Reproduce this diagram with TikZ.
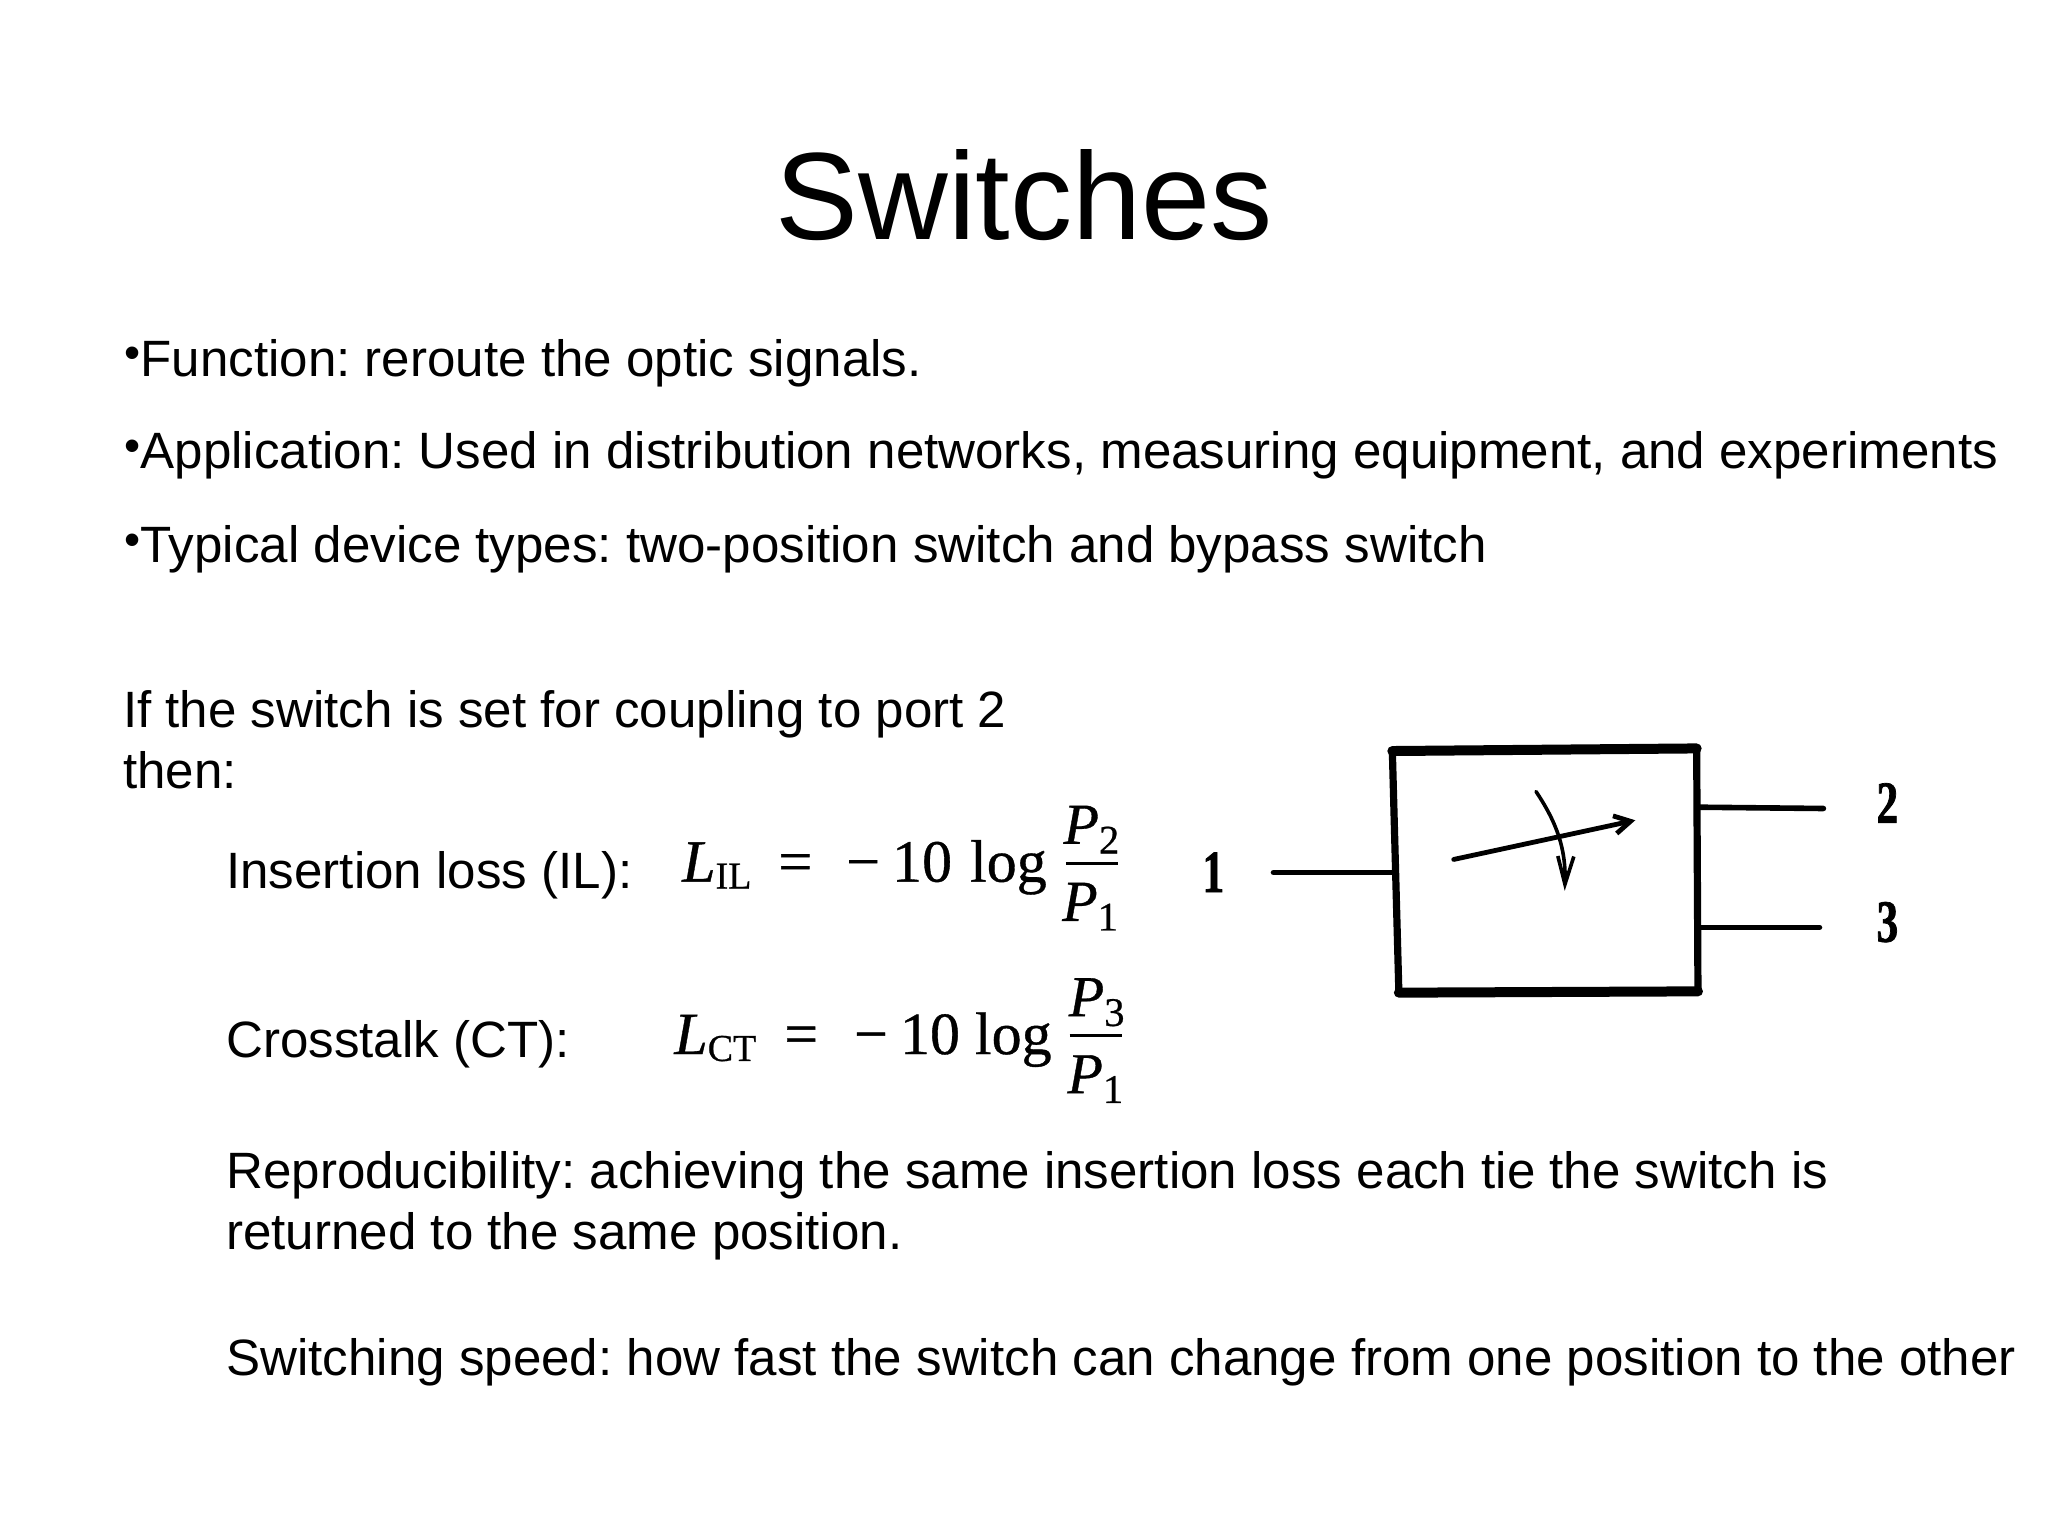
\documentclass[tikz,border=0pt]{standalone}
\usepackage{fontspec}
\usetikzlibrary{arrows.meta}
\setmainfont{Liberation Sans}
\newfontfamily\eqnfont[FakeBold=0.6]{Liberation Serif}
\newfontfamily\portfont[FakeStretch=0.72,FakeBold=1.2]{Liberation Serif}
\frenchspacing

\newcommand{\pw}[1]{\textit{P}\textsubscript{#1}}
\newcommand{\sbul}{\raisebox{0.28ex}{\fontsize{23}{23}\selectfont\textbullet}}
\newcommand{\lsub}[1]{\raisebox{-0.25ex}{\fontsize{19}{19}\selectfont #1}}

\tikzset{
	title/.style = {anchor=base, inner sep=0pt, font=\fontsize{62.1}{70}\selectfont},
	body/.style = {anchor=base west, inner sep=0pt, font=\fontsize{25.55}{30}\selectfont},
	eqn/.style = {anchor=base west, inner sep=0pt, font=\eqnfont\fontsize{30}{36}\selectfont},
	pow/.style = {anchor=base, inner sep=0pt, font=\eqnfont\fontsize{29}{36}\selectfont},
	port/.style = {anchor=base, inner sep=0pt, font=\portfont\bfseries\fontsize{30}{32}\selectfont},
	wire/.style = {line width=2.8pt, line cap=round}
}

\begin{document}
\begin{tikzpicture}[x=0.65306pt, y=-0.65306pt]

	\useasboundingbox (0,0) rectangle (1568,1176);

	\node [title] (heading) at (784,183) {Switches};

	\node [body] (func) at (95,288) {\sbul Function: reroute the optic signals.};
	\node [body] (appl) at (95,359) {\sbul Application: Used in distribution networks, measuring equipment, and experiments};
	\node [body] (devs) at (95,431) {\sbul Typical device types: two-position switch and bypass switch};

	\node [body] (ifset) at (94,557) {If the switch is set for coupling to port 2};
	\node [body] (then) at (94,604) {then:};

	\node [body] (il) at (173,680) {Insertion loss (IL):};
	\node [body] (ct) at (173,810) {Crosstalk (CT):};
	\node [body] (repro) at (173,910) {Reproducibility: achieving the same insertion loss each tie the switch is};
	\node [body] (retn) at (173,957) {returned to the same position.};
	\node [body] (speed) at (173,1053) {Switching speed: how fast the switch can change from one position to the other};

	% the two formulas
	\node [eqn] (lil) at (522,675) {\textit{L}\lsub{IL}\hspace{13.5pt}=\hspace{17pt}\textminus\hspace{6pt}10\hspace{9pt}log};
	\node [pow] (numil) at (836,646) {\pw{2}};
	\node [pow] (denil) at (835,705) {\pw{1}};
	\draw [line width=1.4pt] (816,661) coordinate (ila) -- (856,661) coordinate (ilb);

	\node [eqn] (lct) at (516,807) {\textit{L}\lsub{CT}\hspace{14pt}=\hspace{18pt}\textminus\hspace{6pt}10\hspace{7.5pt}log};
	\node [pow] (numct) at (840,778) {\pw{3}};
	\node [pow] (denct) at (839,837) {\pw{1}};
	\draw [line width=1.4pt] (819,793) coordinate (cta) -- (859,793) coordinate (ctb);

	% switch box
	\coordinate (nw) at (1066,575);
	\coordinate (ne) at (1299,573);
	\coordinate (se) at (1300,759);
	\coordinate (sw) at (1071,760);
	\draw [line width=5pt, line cap=round] (nw) -- (ne);
	\draw [line width=5pt, line cap=round] (sw) -- (se);
	\draw [line width=3.6pt] (nw) -- (sw);
	\draw [line width=3.6pt] (ne) -- (se);

	\coordinate (in) at (1067,668);
	\coordinate (outa) at (1300,618);
	\coordinate (outb) at (1301,710);
	\coordinate (enda) at (975,668);
	\coordinate (endb) at (1396,619);
	\coordinate (endc) at (1393,710);
	\draw [wire] (enda) -- (in);
	\draw [wire] (outa) -- (endb);
	\draw [wire] (outb) -- (endc);

	\node [port] (one) at (929,683) {1};
	\node [port] (two) at (1445,630) {2};
	\node [port] (three) at (1445,721) {3};

	% the arrows inside
	\coordinate (ma) at (1113,658);
	\coordinate (mb) at (1252,628);
	\coordinate (ca) at (1176,606);
	\coordinate (cb) at (1198,682);
	\draw [-{Straight Barb[length=8pt,width=9pt]}, line width=2.4pt, line cap=round] (ma) -- (mb);
	\draw [-{Straight Barb[length=14pt,width=8pt]}, line width=1.8pt, line cap=round] (ca) .. controls (1192,630) and (1199,650) .. (cb);

\end{tikzpicture}
\end{document}
